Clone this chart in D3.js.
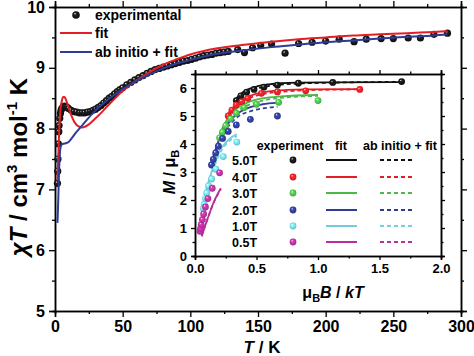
<!DOCTYPE html>
<html><head><meta charset="utf-8">
<script src="https://cdn.jsdelivr.net/npm/d3@7"></script>
<style>
body{margin:0;background:#fff;}
svg{font-family:"Liberation Sans",Arial,sans-serif;font-weight:bold;}
</style></head>
<body><svg id="c" width="474" height="356"></svg>
<script>
// ---------- main chart data (chiT vs T) ----------
const expT = [1.8,2.0,2.2,2.5,2.8,3.0,3.5,4,4.5,5,6,7,8,9,10,12,14,16,18,20,22,24,26,28,30,32,34,36,38,40,42,44,46,48,50,53,56,59,62,65,68,71,74,77,80,83,86,89,92,95,98,101,104,107,110,113,116,119,122,125,128,135,140,146,152,160,170,180,190,200,210,221,230,241,250,261,270,280,290];
const expChiT = [7.10,7.30,7.50,7.75,7.95,8.05,8.17,8.25,8.30,8.33,8.36,8.37,8.36,8.35,8.33,8.30,8.28,8.27,8.26,8.26,8.26,8.27,8.28,8.30,8.32,8.35,8.38,8.42,8.46,8.50,8.53,8.57,8.61,8.64,8.67,8.72,8.76,8.80,8.84,8.87,8.91,8.94,8.97,8.99,9.01,9.03,9.05,9.07,9.09,9.11,9.12,9.14,9.16,9.18,9.20,9.21,9.22,9.24,9.25,9.26,9.27,9.30,9.25,9.33,9.37,9.39,9.24,9.40,9.42,9.44,9.47,9.43,9.47,9.48,9.48,9.49,9.49,9.55,9.57];
const fitT = [1.8,2,3,4,5,6,7,8,10,12,14,16,18,20,22,25,30,35,40,50,60,70,80,90,100,120,140,160,180,200,220,240,260,280,290];
const fitChiT = [7.15,7.30,7.90,8.30,8.45,8.52,8.52,8.48,8.35,8.22,8.12,8.06,8.03,8.02,8.03,8.07,8.17,8.28,8.40,8.62,8.79,8.93,9.05,9.14,9.22,9.32,9.38,9.43,9.47,9.50,9.53,9.55,9.57,9.59,9.60];
const abT = [1.8,2,2.5,3,3.5,4,5,6,8,10,12,15,20,25,30,35,40,50,60,70,80,90,100,120,140,160,180,200,220,240,260,280,290];
const abChiT = [6.45,6.55,6.90,7.30,7.55,7.68,7.74,7.75,7.76,7.78,7.83,7.92,8.05,8.18,8.30,8.40,8.49,8.65,8.78,8.89,8.99,9.07,9.13,9.23,9.29,9.34,9.38,9.42,9.45,9.48,9.51,9.53,9.55];
const xTicksMain = [0,50,100,150,200,250,300];
const yTicksMain = [5,6,7,8,9,10];
const mainLegend = ["experimental","fit","ab initio + fit"];

// ---------- inset data (M vs muB B / kT) ----------
const fields = ["5.0T","4.0T","3.0T","2.0T","1.0T","0.5T"];
const expX = [
  [0.336,0.373,0.42,0.48,0.56,0.67,0.84,1.12,1.68],
  [0.27,0.30,0.335,0.38,0.43,0.54,0.67,0.90,1.34],
  [0.20,0.224,0.25,0.29,0.336,0.40,0.50,0.68,1.00],
  [0.134,0.149,0.168,0.19,0.224,0.27,0.336,0.45,0.67],
  [0.068,0.075,0.085,0.095,0.11,0.135,0.17,0.23,0.34],
  [0.04,0.045,0.05,0.06,0.07,0.085,0.105,0.14,0.20]
];
const expM = [
  [5.55,5.72,5.85,5.95,6.03,6.10,6.17,6.20,6.23],
  [5.00,5.21,5.39,5.51,5.63,5.81,5.86,5.90,5.95],
  [4.22,4.42,4.65,4.90,5.10,5.30,5.42,5.49,5.55],
  [3.25,3.45,3.68,3.92,4.20,4.45,4.68,4.88,5.00],
  [1.70,1.85,2.05,2.25,2.50,2.75,3.10,3.55,4.07],
  [0.88,0.98,1.12,1.30,1.50,1.75,2.05,2.42,2.97]
];
const fitX = [
  [0.33,0.40,0.50,0.60,0.70,0.85,1.10,1.68],
  [0.27,0.33,0.40,0.50,0.60,0.75,0.90,1.34],
  [0.20,0.25,0.30,0.35,0.45,0.55,0.70,1.00],
  [0.13,0.17,0.20,0.25,0.30,0.35,0.45,0.55,0.67],
  [0.065,0.10,0.15,0.20,0.25,0.30,0.34],
  [0.054,0.10,0.15,0.21]
];
const fitM = [
  [5.60,5.88,6.05,6.13,6.17,6.19,6.20,6.21],
  [5.10,5.40,5.62,5.80,5.88,5.93,5.95,5.96],
  [4.35,4.80,5.10,5.30,5.52,5.63,5.70,5.75],
  [3.30,3.85,4.20,4.60,4.90,5.10,5.32,5.42,5.48],
  [1.85,2.50,3.20,3.75,4.05,4.25,4.35],
  [0.70,1.30,1.90,2.42]
];
const abX = fitX;
const abM = [
  [5.50,5.80,5.98,6.07,6.12,6.16,6.19,6.22],
  [5.00,5.30,5.55,5.73,5.82,5.88,5.92,5.95],
  [4.25,4.70,5.00,5.20,5.42,5.55,5.65,5.72],
  [3.20,3.75,4.10,4.50,4.78,4.98,5.17,5.27,5.33],
  [1.80,2.45,3.12,3.65,3.98,4.18,4.28],
  [0.72,1.30,1.88,2.38]
];
const insetXTicks = [0,0.5,1.0,1.5,2.0];
const insetYTicks = [0,1,2,3,4,5,6];
const insetLegendHead = ["experiment","fit","ab initio + fit"];

// ---------- style ----------
const colors = ["#111111","#e31f26","#4cb848","#2e3c96","#6fd0dc","#b5309c"];
const svg = d3.select("#c");
const defs = svg.append("defs");
function ballGrad(id, col){
  const g = defs.append("radialGradient").attr("id",id).attr("cx","50%").attr("cy","50%").attr("r","60%").attr("fx","35%").attr("fy","30%");
  g.append("stop").attr("offset","0%").attr("stop-color","#ffffff");
  g.append("stop").attr("offset","25%").attr("stop-color",d3.color(col).brighter(col==="#111111"?2:0.6));
  g.append("stop").attr("offset","70%").attr("stop-color",col);
  g.append("stop").attr("offset","100%").attr("stop-color",d3.color(col).darker(0.6));
}
colors.forEach((c,i)=>ballGrad("b"+i,c));

// ---------- main chart ----------
const M = {l:55,r:461,t:7,b:311};
const x = d3.scaleLinear().domain([0,300]).range([M.l,M.r]);
const y = d3.scaleLinear().domain([5,10]).range([M.b,M.t]);

function axes(g, xs, ys, xt, yt, xminor, yminor, major, minor, fsz, fmtX, fmtY, pad){
  const L=xs.range()[0], R=xs.range()[1], B=ys.range()[0], T=ys.range()[1];
  g.append("g").attr("transform",`translate(0,${B})`).call(d3.axisBottom(xs).tickValues(xt).tickSize(major).tickPadding(pad).tickFormat(fmtX));
  g.append("g").attr("transform",`translate(0,${B})`).call(d3.axisBottom(xs).tickValues(xminor).tickSize(minor).tickFormat(""));
  g.append("g").attr("transform",`translate(0,${T})`).call(d3.axisTop(xs).tickValues(xt).tickSize(major).tickFormat(""));
  g.append("g").attr("transform",`translate(0,${T})`).call(d3.axisTop(xs).tickValues(xminor).tickSize(minor).tickFormat(""));
  g.append("g").attr("transform",`translate(${L},0)`).call(d3.axisLeft(ys).tickValues(yt).tickSize(major).tickPadding(pad).tickFormat(fmtY));
  g.append("g").attr("transform",`translate(${L},0)`).call(d3.axisLeft(ys).tickValues(yminor).tickSize(minor).tickFormat(""));
  g.append("g").attr("transform",`translate(${R},0)`).call(d3.axisRight(ys).tickValues(yt).tickSize(major).tickFormat(""));
  g.append("g").attr("transform",`translate(${R},0)`).call(d3.axisRight(ys).tickValues(yminor).tickSize(minor).tickFormat(""));
  g.selectAll(".domain").attr("stroke","#000").attr("stroke-width",1.5);
  g.selectAll(".tick line").attr("stroke","#000").attr("stroke-width",1.3);
  g.selectAll(".tick text").attr("font-family",'"Liberation Sans",Arial,sans-serif').attr("font-weight","bold").attr("font-size",fsz).attr("fill","#000");
}

const gMain = svg.append("g");
gMain.append("rect").attr("x",M.l).attr("y",M.t).attr("width",M.r-M.l).attr("height",M.b-M.t).attr("fill","#fff");
axes(gMain,x,y,xTicksMain,yTicksMain,[25,75,125,175,225,275],[5.5,6.5,7.5,8.5,9.5],6,3,16,d3.format("d"),d3.format("d"),4);

// experimental points
const mainPts = expT.map((t,i)=>[t,expChiT[i]]);
gMain.append("g").selectAll("circle").data(mainPts).join("circle")
  .attr("cx",d=>x(d[0])).attr("cy",d=>y(d[1])).attr("r",3.6).attr("fill","url(#b0)");
const line = d3.line().x(d=>x(d[0])).y(d=>y(d[1])).curve(d3.curveMonotoneX);
gMain.append("path").datum(fitT.map((t,i)=>[t,fitChiT[i]])).attr("d",line).attr("fill","none").attr("stroke",colors[1]).attr("stroke-width",2);
gMain.append("path").datum(abT.map((t,i)=>[t,abChiT[i]])).attr("d",line).attr("fill","none").attr("stroke",colors[3]).attr("stroke-width",2);

// main legend
const lg = gMain.append("g");
lg.append("circle").attr("cx",76).attr("cy",15).attr("r",3.8).attr("fill","url(#b0)");
lg.append("line").attr("x1",60).attr("x2",92).attr("y1",33).attr("y2",33).attr("stroke",colors[1]).attr("stroke-width",2);
lg.append("line").attr("x1",60).attr("x2",92).attr("y1",52).attr("y2",52).attr("stroke",colors[3]).attr("stroke-width",2);
[15,33,52].forEach((yy,i)=>lg.append("text").attr("x",95).attr("y",yy+5).attr("font-size",14).text(mainLegend[i]));

// axis titles
const yt = svg.append("text").attr("transform","translate(27,167) rotate(-90)").attr("text-anchor","middle").attr("font-size",24);
yt.append("tspan").attr("font-style","italic").text("χT");
yt.append("tspan").text(" / cm");
yt.append("tspan").attr("font-size",15).attr("dy",-10).text("3");
yt.append("tspan").attr("dy",10).text(" mol");
yt.append("tspan").attr("font-size",15).attr("dy",-10).text("-1");
yt.append("tspan").attr("dy",10).text(" K");
const xt = svg.append("text").attr("x",262).attr("y",353).attr("text-anchor","middle").attr("font-size",17);
xt.append("tspan").attr("font-style","italic").text("T");
xt.append("tspan").text(" / K");

// ---------- inset ----------
const I = {l:195,r:441,t:74,b:256};
const xi = d3.scaleLinear().domain([0,2]).range([I.l,I.r]);
const yi = d3.scaleLinear().domain([0,6.5]).range([I.b,I.t]);
const gIn = svg.append("g");
gIn.append("rect").attr("x",I.l).attr("y",I.t).attr("width",I.r-I.l).attr("height",I.b-I.t).attr("fill","#fff");
axes(gIn,xi,yi,insetXTicks,insetYTicks,[0.25,0.75,1.25,1.75],[0.5,1.5,2.5,3.5,4.5,5.5],4,2.5,13,d3.format(".1f"),d3.format("d"),4);

const iline = d3.line().x(d=>xi(d[0])).y(d=>yi(d[1])).curve(d3.curveMonotoneX);
fields.forEach((f,k)=>{
  gIn.append("path").datum(abX[k].map((v,i)=>[v,abM[k][i]])).attr("d",iline).attr("fill","none")
    .attr("stroke",colors[k]).attr("stroke-width",1.8).attr("stroke-dasharray","4,3");
  gIn.append("path").datum(fitX[k].map((v,i)=>[v,fitM[k][i]])).attr("d",iline).attr("fill","none")
    .attr("stroke",colors[k]).attr("stroke-width",1.8);
});
fields.forEach((f,k)=>{
  gIn.append("g").selectAll("circle").data(expX[k].map((v,i)=>[v,expM[k][i]])).join("circle")
    .attr("cx",d=>xi(d[0])).attr("cy",d=>yi(d[1])).attr("r",3.4).attr("fill",`url(#b${k})`);
});

// inset legend
const il = gIn.append("g").attr("font-size",12.5);
il.append("text").attr("x",290).attr("y",150).attr("text-anchor","middle").text(insetLegendHead[0]);
il.append("text").attr("x",341).attr("y",150).attr("text-anchor","middle").text(insetLegendHead[1]);
il.append("text").attr("x",400).attr("y",150).attr("text-anchor","middle").text(insetLegendHead[2]);
const rowY = [160,177,193,210,226,242];
fields.forEach((f,k)=>{
  const yy=rowY[k];
  il.append("text").attr("x",232).attr("y",yy+4.5).text(f);
  il.append("circle").attr("cx",293).attr("cy",yy).attr("r",3.4).attr("fill",`url(#b${k})`);
  il.append("line").attr("x1",326).attr("x2",357).attr("y1",yy).attr("y2",yy).attr("stroke",colors[k]).attr("stroke-width",2);
  il.append("line").attr("x1",380).attr("x2",412).attr("y1",yy).attr("y2",yy).attr("stroke",colors[k]).attr("stroke-width",2).attr("stroke-dasharray","4,3");
});

// inset titles
const ixt = svg.append("text").attr("x",333).attr("y",298).attr("text-anchor","middle").attr("font-size",16);
ixt.append("tspan").text("μ");
ixt.append("tspan").attr("font-size",11).attr("dy",4).text("B");
ixt.append("tspan").attr("dy",-4).attr("font-style","italic").text("B");
ixt.append("tspan").text(" / ");
ixt.append("tspan").attr("font-style","italic").text("kT");
const iyt = svg.append("text").attr("transform","translate(175,172) rotate(-90)").attr("text-anchor","middle").attr("font-size",16);
iyt.append("tspan").attr("font-style","italic").text("M");
iyt.append("tspan").text(" / μ");
iyt.append("tspan").attr("font-size",11).attr("dy",4).text("B");
</script></body></html>
